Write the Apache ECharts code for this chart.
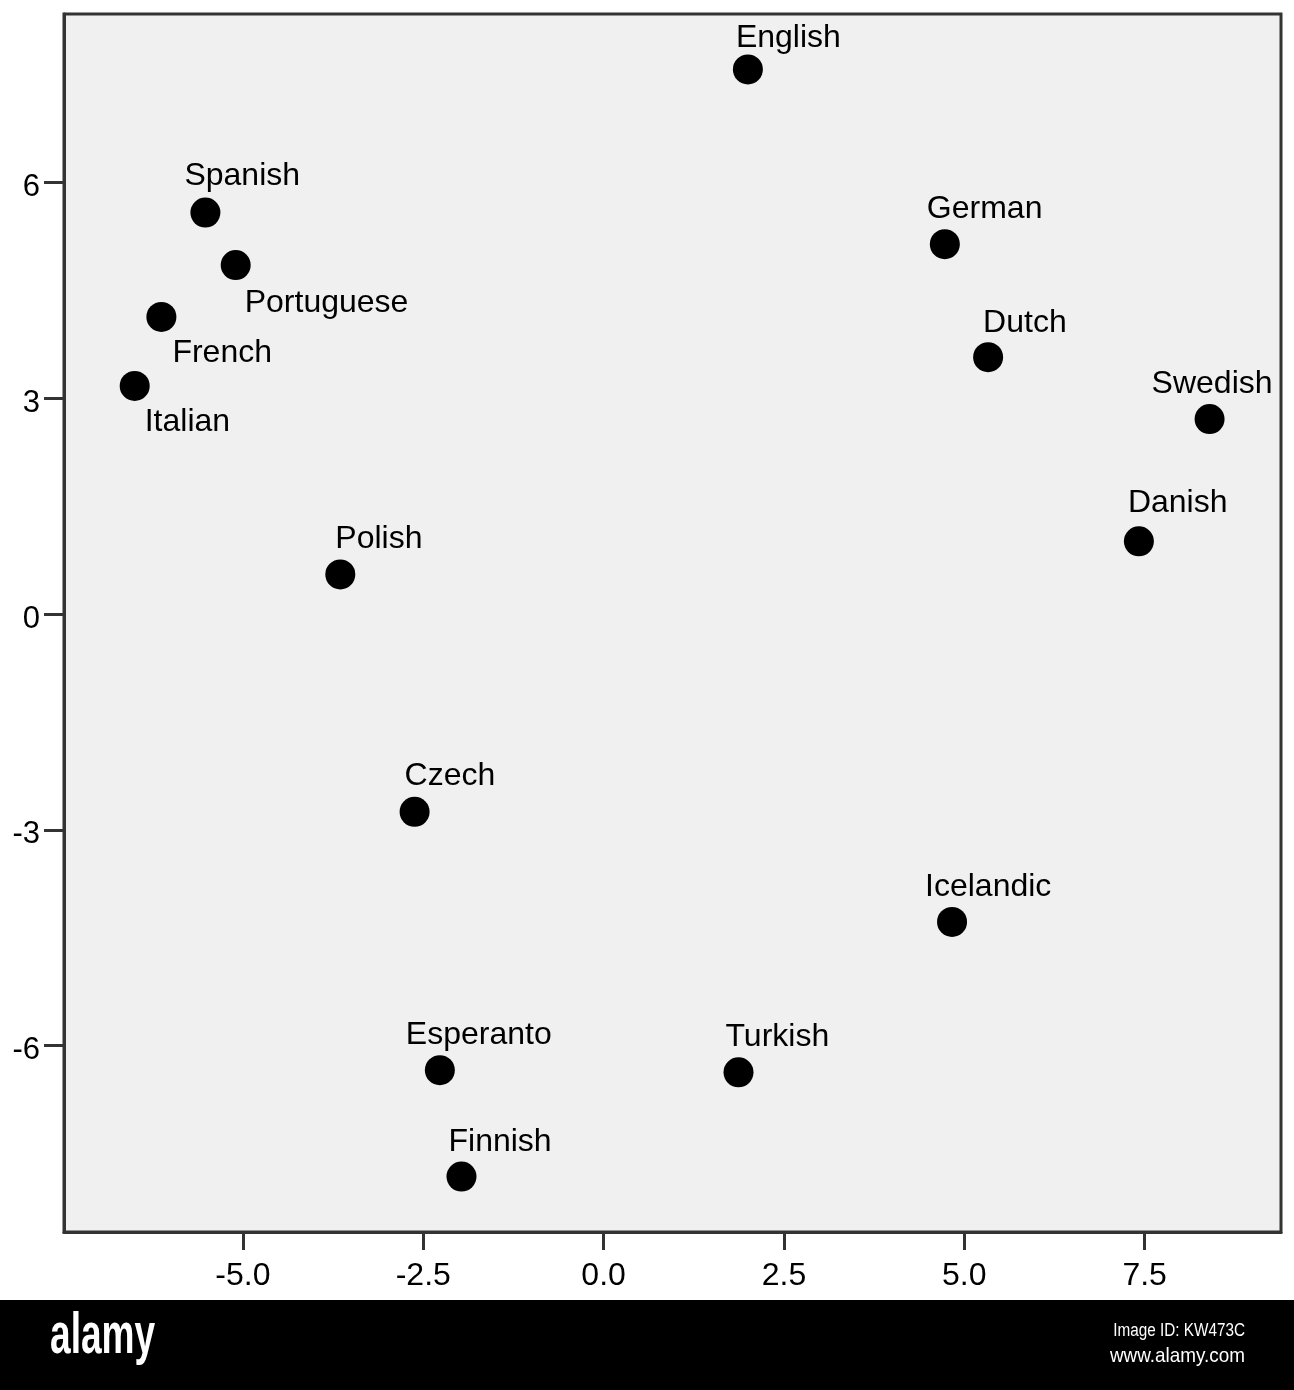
<!DOCTYPE html>
<html>
<head>
<meta charset="utf-8">
<script src="https://cdn.jsdelivr.net/npm/echarts@6/dist/echarts.min.js"></script>
<style>
html,body{margin:0;padding:0;background:#fff;}
#chart{width:1294px;height:1390px;}
</style>
</head>
<body>
<div id="chart"></div>
<script>
// ---- data ----
const languages = ["English","Spanish","Portuguese","French","Italian","German","Dutch","Swedish","Danish","Polish","Czech","Icelandic","Esperanto","Turkish","Finnish"];
const dim1 = [2.00,-5.52,-5.10,-6.13,-6.50,4.73,5.33,8.40,7.42,-3.65,-2.62,4.83,-2.27,1.87,-1.97];
const dim2 = [7.57,5.58,4.85,4.13,3.17,5.14,3.57,2.71,1.01,0.55,-2.75,-4.28,-6.34,-6.37,-7.82];
const xTicks = [-5,-2.5,0,2.5,5,7.5];
const yTicks = [-6,-3,0,3,6];

// ---- label placement (style only) ----
const labelOffsets = {
  English:[-12,-31], Spanish:[-21,-36], Portuguese:[9,38], French:[11,36], Italian:[10,36],
  German:[-18,-35], Dutch:[-5,-34], Swedish:[-58,-35], Danish:[-11,-38], Polish:[-5,-35],
  Czech:[-10,-36], Icelandic:[-27,-35], Esperanto:[-34,-35], Turkish:[-13,-35], Finnish:[-13,-34]
};

const FONT = '"Liberation Sans", Arial, sans-serif';
const NARROW = '"Liberation Sans Narrow", "Liberation Sans", Arial, sans-serif';
const points = languages.map((n,i)=>({
  name:n,
  value:[dim1[i],dim2[i]],
  label:{offset:labelOffsets[n]}
}));

const chart = echarts.init(document.getElementById('chart'), null, {renderer:'canvas'});
chart.setOption({
  animation:false,
  backgroundColor:'#ffffff',
  grid:{left:64,right:13,top:14,bottom:158,show:true,backgroundColor:'#f0f0f0',borderColor:'#333',borderWidth:3,containLabel:false},
  xAxis:{
    type:'value', min:-7.48, max:9.39,
    axisLine:{show:true,onZero:false,lineStyle:{color:'#333',width:3}},
    axisTick:{show:true,customValues:xTicks,length:18,lineStyle:{color:'#333',width:3}},
    axisLabel:{show:true,customValues:xTicks,margin:28,fontSize:32,color:'#000',fontFamily:FONT,
      formatter:v=>Number(v).toFixed(1)},
    splitLine:{show:false}
  },
  yAxis:{
    type:'value', min:-8.59, max:8.34,
    axisLine:{show:true,onZero:false,lineStyle:{color:'#333',width:3}},
    axisTick:{show:true,customValues:yTicks,length:20,lineStyle:{color:'#333',width:3}},
    axisLabel:{show:true,customValues:yTicks,margin:24,fontSize:31,color:'#000',fontFamily:FONT,
      formatter:v=>'{t|' + String(v) + '}',
      rich:{t:{fontSize:31,color:'#000',fontFamily:FONT,padding:[10,0,0,0]}}},
    splitLine:{show:false}
  },
  series:[{
    type:'scatter',
    symbol:'circle',
    symbolSize:30,
    itemStyle:{color:'#000',opacity:1},
    emphasis:{disabled:true},
    label:{show:true,position:'inside',formatter:'{b}',align:'left',verticalAlign:'middle',
      fontSize:32,color:'#000',fontFamily:FONT},
    data:points
  }],
  graphic:[
    {type:'rect',left:0,top:1300,shape:{width:1294,height:90},style:{fill:'#000'},silent:true},
    {type:'text',x:50,y:1308,scaleX:0.64,style:{text:'alamy',x:0,y:0,align:'left',verticalAlign:'top',fill:'#fff',font:'bold 58px ' + NARROW}},
    {type:'text',x:1245,y:1322,scaleX:0.85,style:{text:'Image ID: KW473C',x:0,y:0,align:'right',verticalAlign:'top',fill:'#fff',font:'18px ' + NARROW}},
    {type:'text',x:1245,y:1346,scaleX:0.9,style:{text:'www.alamy.com',x:0,y:0,align:'right',verticalAlign:'top',fill:'#fff',font:'21px ' + NARROW}}
  ]
});
</script>
</body>
</html>
